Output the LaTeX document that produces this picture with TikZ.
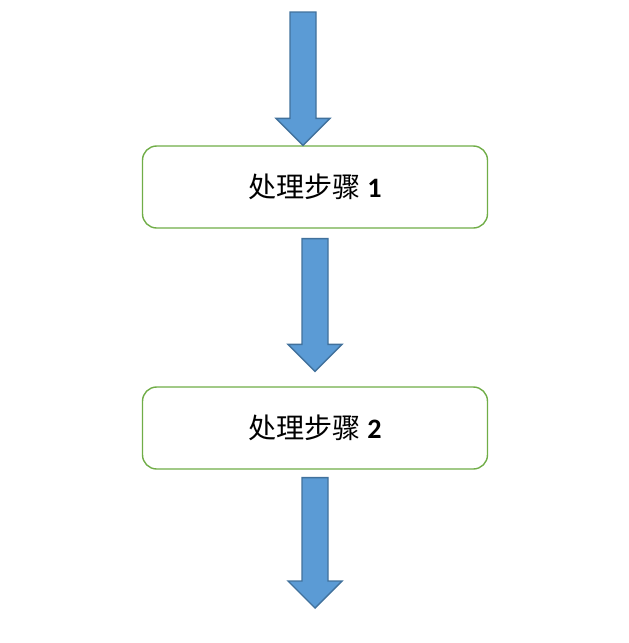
\documentclass[tikz,border=0pt]{standalone}
\usepackage{fontspec}
\setmainfont{Carlito}
\newfontfamily\cjk{Noto Sans CJK SC}
\usetikzlibrary{positioning, calc}
\definecolor{boxgreen}{HTML}{70AD47}
\definecolor{arrowfill}{HTML}{5B9BD5}
\definecolor{arrowline}{HTML}{41719C}
\tikzstyle{stepbox} = [
  rectangle,
  rounded corners=8pt,
  minimum width=6.9cm,
  minimum height=1.64cm,
  text centered,
  draw=boxgreen,
  line width=0.8pt,
  fill=white,
  font=\fontsize{16}{18}\selectfont
]
\tikzstyle{flow} = [
  draw=arrowline,
  fill=arrowfill,
  line width=0.8pt,
  line join=miter
]
% block arrow from top coordinate #1 to tip coordinate #2 (x equal)
\newcommand{\blockarrow}[2]{%
  \draw[flow] ($(#1)+(-13,0)$) -- ($(#1)+(13,0)$) -- ($(#2)+(13,-27)$)
    -- ($(#2)+(27,-27)$) -- (#2) -- ($(#2)+(-27,-27)$) -- ($(#2)+(-13,-27)$) -- cycle;}
\begin{document}
\begin{tikzpicture}[x=0.02cm,y=-0.02cm]
    \useasboundingbox (0,0) rectangle (629,643);
    \node[stepbox] (A) at (315,187) {{\cjk 处理步骤} \textbf{1}};
    \node[stepbox] (B) at (315,428) {{\cjk 处理步骤} \textbf{2}};
    \coordinate (top) at (303,12);
    \coordinate (end) at (315,608);
    \coordinate (A1) at (A.north -| top);
    \coordinate (A2) at ($(A.south)+(0,10)$);
    \coordinate (B1) at ($(B.north)+(0,-15)$);
    \coordinate (B2) at ($(B.south)+(0,8)$);
    \blockarrow{top}{A1}
    \blockarrow{A2}{B1}
    \blockarrow{B2}{end}
\end{tikzpicture}
\end{document}
